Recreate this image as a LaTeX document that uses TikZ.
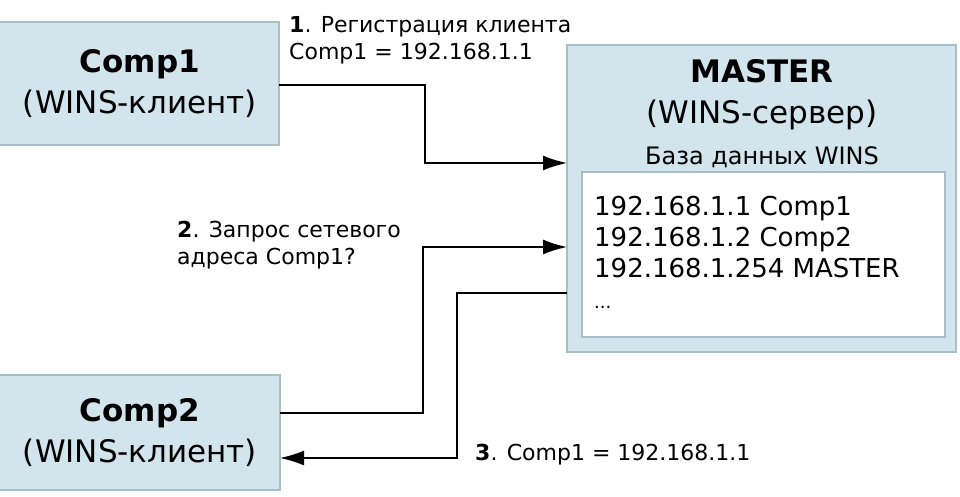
\documentclass[tikz,border=0pt]{standalone}
\usepackage{fontspec}
\setmainfont{DejaVu Sans}
\usetikzlibrary{arrows.meta}
\definecolor{boxfill}{HTML}{D2E4EC}
\definecolor{boxline}{HTML}{A9BEC8}
\begin{document}
\begin{tikzpicture}[x=1pt,y=-1pt,
  box/.style={draw=boxline,fill=boxfill,line width=2.5pt},
  conn/.style={line width=1.6pt,-{Latex[length=24pt,width=15pt]}},
  ttl/.style={align=center,font=\fontsize{31}{41}\selectfont},
  lab/.style={anchor=west,align=left,font=\fontsize{22}{27}\selectfont,inner sep=0}]
\useasboundingbox[fill=white] (0,0) rectangle (960,496);
\fill[white] (0,0) rectangle (960,496);
\draw[box] (-5,22) rectangle (279,145);
\draw[box] (-5,375) rectangle (280,490);
\draw[box] (567,45) rectangle (956,352);
\draw[draw=boxline,line width=1.2pt,fill=white] (582,172) rectangle (945,337);
\coordinate (c1) at (279,85);
\coordinate (c2) at (280,413);
\coordinate (c2in) at (280,458);
\coordinate (m1) at (567,163);
\coordinate (m2) at (567,247);
\coordinate (m3) at (567,293);
\node[ttl] (t1) at (140,84) {\textbf{Comp1}\\(WINS-клиент)};
\node[ttl] (t2) at (140,433) {\textbf{Comp2}\\(WINS-клиент)};
\node[ttl] (tm) at (762,95) {\textbf{MASTER}\\(WINS-сервер)};
\node[font=\fontsize{24}{28}\selectfont] (db) at (762,157) {База данных WINS};
\node[lab,font=\fontsize{26}{31}\selectfont] (list) at (594,252) {192.168.1.1 Comp1\\192.168.1.2 Comp2\\192.168.1.254 MASTER\\\fontsize{18}{22}\selectfont ...};
\draw[conn] (c1) -- (425,85) -- (425,163) -- (m1);
\draw[conn] (c2) -- (423,413) -- (423,247) -- (m2);
\draw[conn] (m3) -- (457,293) -- (457,458) -- (c2in);
\node[lab] (l1) at (289,40) {\textbf{1}. Регистрация клиента\\Comp1 = 192.168.1.1};
\node[lab] (l2) at (177,245) {\textbf{2}. Запрос сетевого\\адреса Comp1?};
\node[lab] (l3) at (475,455) {\textbf{3}. Comp1 = 192.168.1.1};
\end{tikzpicture}
\end{document}
